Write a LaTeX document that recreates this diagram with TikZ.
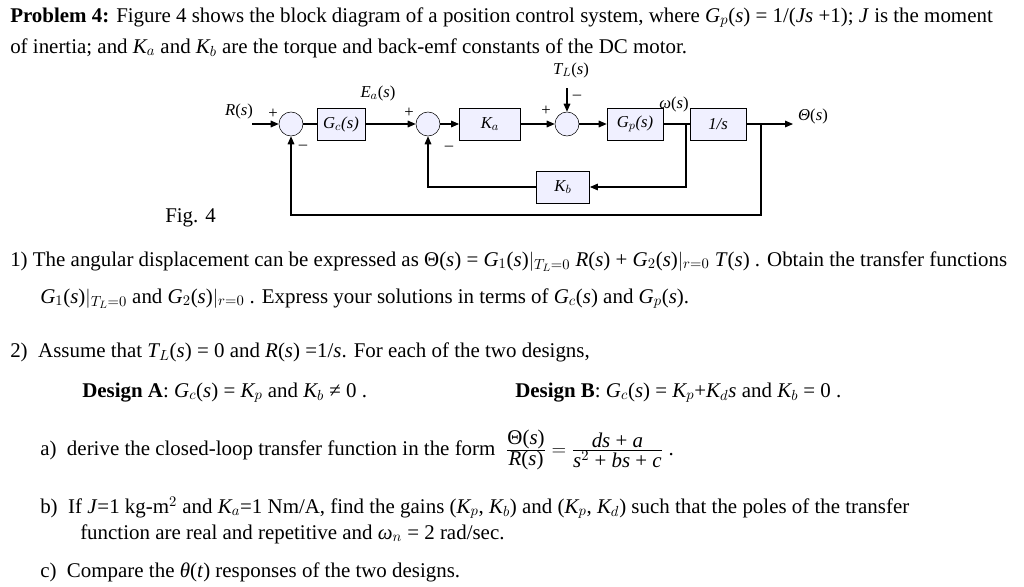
\documentclass[tikz,border=0pt]{standalone}
\usepackage{fontspec}
\setmainfont{Liberation Serif}
\usetikzlibrary{arrows.meta}
\begin{document}
\begin{tikzpicture}[x=0.75pt,y=-0.75pt,
  txt/.style={anchor=base west,inner sep=0pt,font=\fontsize{15.7}{18}\selectfont},
  blk/.style={draw,fill=blue!6,minimum height=24pt,inner sep=0pt,font=\fontsize{12.5}{14}\selectfont\itshape},
  sum/.style={draw,fill=blue!6,circle,minimum size=18pt,inner sep=0pt},
  lab/.style={inner sep=1pt,font=\fontsize{12.5}{14}\selectfont},
  sig/.style={-{Triangle[length=6pt,width=5pt]},line width=0.8pt},
  ln/.style={line width=0.8pt}]
\useasboundingbox (0,0) rectangle (1024,586);
% header
\node[txt] at (10,22) {\textbf{Problem 4:} Figure 4 shows the block diagram of a position control system, where \textit{G}$_p$(\textit{s}) = 1/(\textit{Js} +1); \textit{J} is the moment};
\node[txt] at (10,53) {of inertia; and \textit{K$_a$} and \textit{K$_b$} are the torque and back-emf constants of the DC motor.};
% diagram
\coordinate (rin) at (252,124);
\node[sum] (s1) at (291,124) {};
\node[blk,minimum width=36pt] (gc) at (341,124) {G$_c$(s)};
\node[sum] (s2) at (428,124) {};
\node[blk,minimum width=46pt] (ka) at (490,124) {K$_a$};
\node[sum] (s3) at (567,124) {};
\node[blk,minimum width=42pt] (gp) at (635,124) {G$_p$(s)};
\node[blk,minimum width=42pt] (ints) at (718,124) {1/s};
\node[blk,minimum width=40pt] (kb) at (563,187) {K$_b$};
\coordinate (out) at (793,124);
\coordinate (tl) at (567,88);
\coordinate (wb) at (686,124);
\coordinate (ob) at (761,124);
\draw[sig] (rin) -- (s1);
\draw[ln] (s1) -- (gc);
\draw[sig] (gc) -- (s2);
\draw[sig] (s2) -- (ka);
\draw[sig] (ka) -- (s3);
\draw[sig] (s3) -- (gp);
\draw[ln] (gp) -- (ints);
\draw[sig] (ints) -- (out);
\draw[sig] (tl) -- (s3);
\draw[sig] (wb) |- (kb);
\draw[sig] (kb) -| (s2);
\draw[sig] (ob) |- (291,215) -- (s1);
\node[lab] at (239,111) {\textit{R}(\textit{s})};
\node[lab] at (273,114) {+};
\node[lab] at (303,147) {–};
\node[lab] at (378,93) {\textit{E$_a$}(\textit{s})};
\node[lab] at (409,113) {+};
\node[lab] at (449,148) {–};
\node[lab] at (546,111) {+};
\node[lab] at (577,97) {–};
\node[lab] at (571,70) {\textit{T$_L$}(\textit{s})};
\node[lab] at (674,104) {\textit{ω}(\textit{s})};
\node[lab] at (813,116) {\textit{Θ}(\textit{s})};
\node[txt] at (165,222) {Fig. 4};
% questions
\node[txt] at (10,266) {1) The angular displacement can be expressed as Θ(\textit{s}) = \textit{G}$_1$(\textit{s})$|_{T_L=0}$ \textit{R}(\textit{s}) + \textit{G}$_2$(\textit{s})$|_{r=0}$ \textit{T}(\textit{s}) . Obtain the transfer functions};
\node[txt] at (40,303) {\textit{G}$_1$(\textit{s})$|_{T_L=0}$ and \textit{G}$_2$(\textit{s})$|_{r=0}$ . Express your solutions in terms of \textit{G$_c$}(\textit{s}) and \textit{G$_p$}(\textit{s}).};
\node[txt] at (10,357) {2)\ \ Assume that \textit{T$_L$}(\textit{s}) = 0 and \textit{R}(\textit{s}) =1/\textit{s}. For each of the two designs,};
\node[txt] at (82,397) {\textbf{Design A}: \textit{G$_c$}(\textit{s}) = \textit{K$_p$} and \textit{K$_b$} ≠ 0 .};
\node[txt] at (515,397) {\textbf{Design B}: \textit{G$_c$}(\textit{s}) = \textit{K$_p$}+\textit{K$_d$s} and \textit{K$_b$} = 0 .};
\node[txt] at (40,455) {a)\ \ derive the closed-loop transfer function in the form\ \ $\frac{\mbox{Θ(\textit{s})}}{\mbox{\textit{R}(\textit{s})}}=\frac{\mbox{\textit{ds} + \textit{a}}}{\mbox{\textit{s}$^2$ + \textit{bs} + \textit{c}}}$ .};
\node[txt] at (40,513) {b)\ \ If \textit{J}=1 kg-m$^2$ and \textit{K$_a$}=1 Nm/A, find the gains (\textit{K$_p$}, \textit{K$_b$}) and (\textit{K$_p$}, \textit{K$_d$}) such that the poles of the transfer};
\node[txt] at (80,539) {function are real and repetitive and \textit{ω$_n$} = 2 rad/sec.};
\node[txt] at (40,577) {c)\ \ Compare the \textit{θ}(\textit{t}) responses of the two designs.};
\end{tikzpicture}
\end{document}
